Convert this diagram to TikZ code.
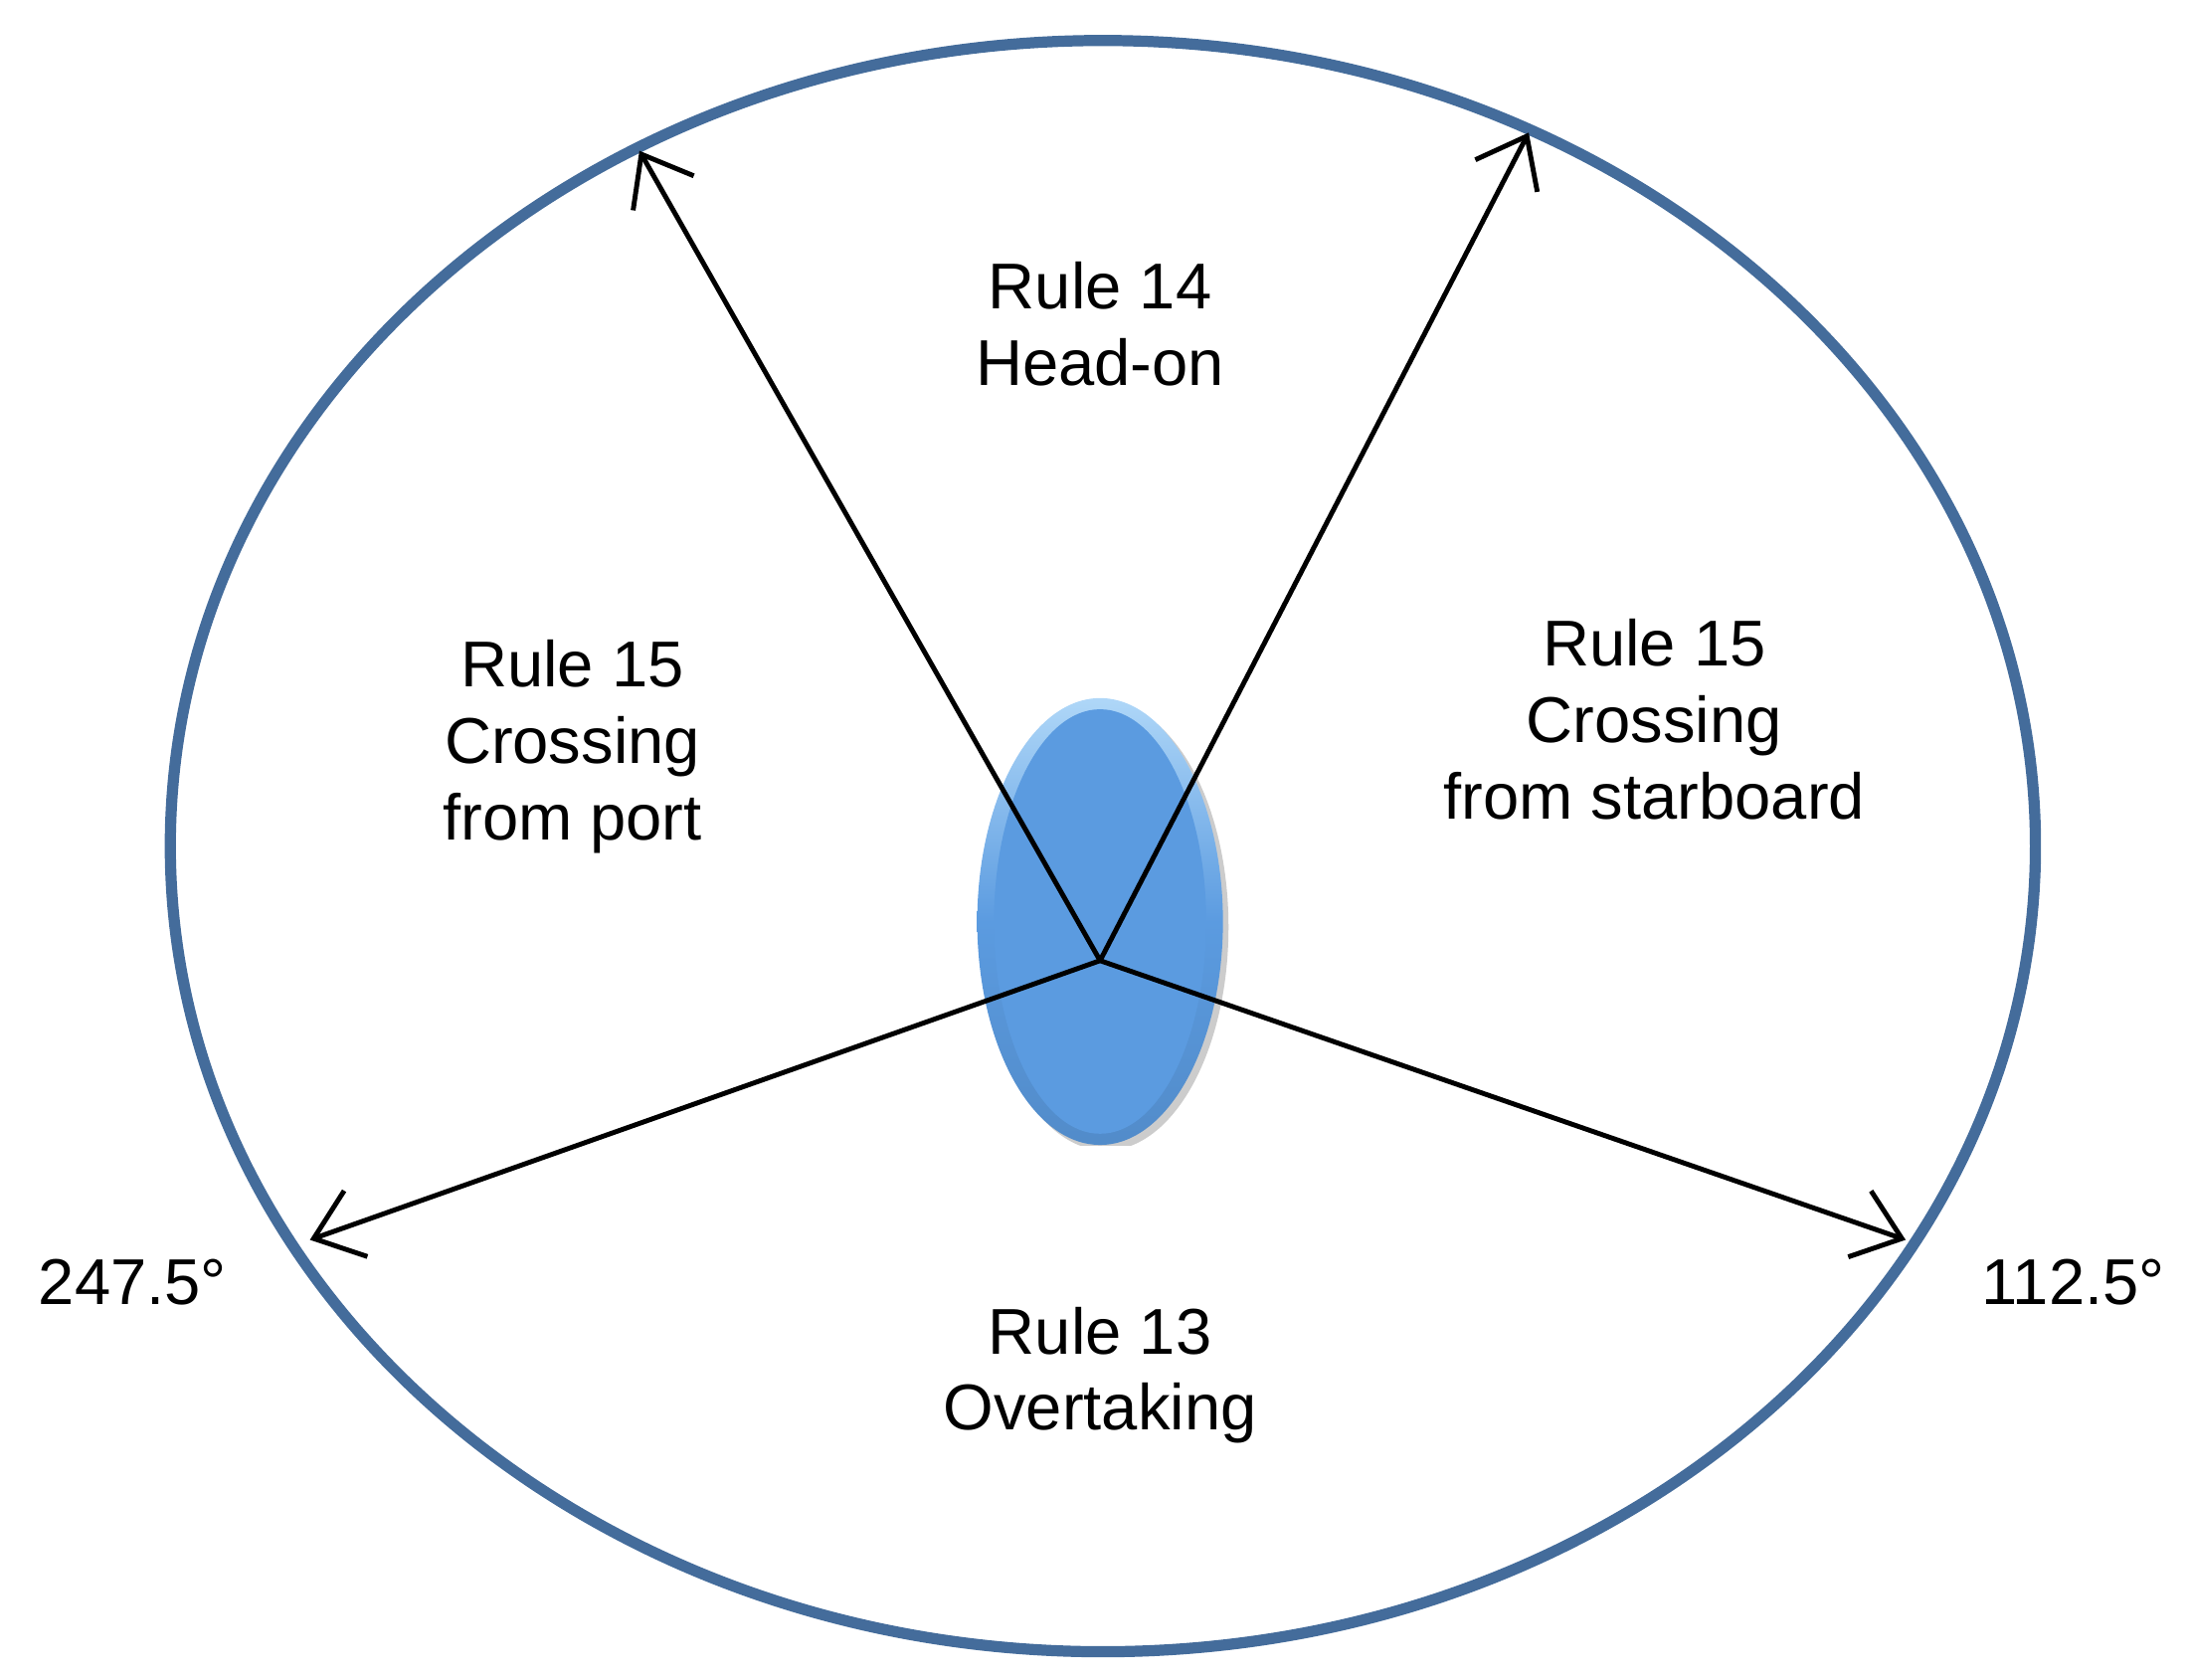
\documentclass[tikz,border=0pt]{standalone}
\usepackage{fontspec}
\setmainfont{Liberation Sans}
\usetikzlibrary{arrows.meta,shadings}
\definecolor{rim}{RGB}{68,108,155}
\definecolor{boat}{RGB}{91,155,224}
\definecolor{boatlight}{RGB}{175,215,248}
\begin{document}
\begin{tikzpicture}[x=1mm,y=1mm,
  lbl/.style={align=center,font=\fontsize{13.2}{15.6}\selectfont},
  arr/.style={-{Straight Barb[length=3.2mm,width=5mm,line width=0.35mm]},line width=0.35mm}]
\useasboundingbox (0,0) rectangle (156.8,120.3);
\draw[rim,line width=0.8mm] (79.0,59.7) ellipse [x radius=66.8,y radius=57.7];
% boat
\begin{scope}
\clip (60,38.3) rectangle (100,80);
\fill[black!20] (79.2,53.9) ellipse [x radius=8.8,y radius=16];
\shade[left color=boatlight,right color=boat!90!black,middle color=boat,shading angle=0] (78.8,54.3) ellipse [x radius=8.8,y radius=16];
\fill[boat] (78.8,54.3) ellipse [x radius=7.6,y radius=15.2];
\end{scope}
\node[coordinate] (O) at (78.8,51.5) {};
\coordinate (A) at (45.8,109.5);
\coordinate (B) at (109.5,110.8);
\coordinate (C) at (22.2,31.5);
\coordinate (D) at (136.5,31.5);
\draw[arr] (O) -- (A);
\draw[arr] (O) -- (B);
\draw[arr] (O) -- (C);
\draw[arr] (O) -- (D);
\node[lbl] (n14) at (78.8,97.1) {Rule 14\\Head-on};
\node[lbl] (n15p) at (41.0,66.8) {Rule 15\\Crossing\\from port};
\node[lbl] (n15s) at (118.5,68.8) {Rule 15\\Crossing\\from starboard};
\node[lbl] (n13) at (78.8,21.8) {Rule 13\\Overtaking};
\node[lbl] (l247) at (9.5,28.5) {247.5°};
\node[lbl] (l112) at (148.5,28.5) {112.5°};
\end{tikzpicture}
\end{document}
